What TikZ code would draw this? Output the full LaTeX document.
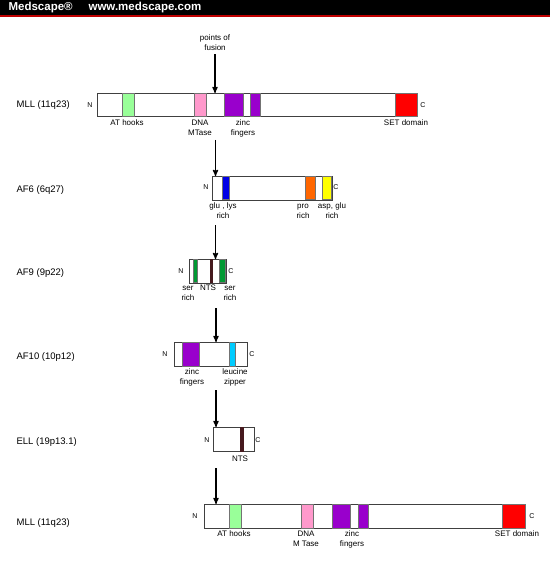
\documentclass[tikz,border=0pt]{standalone}
\usepackage{fontspec}
\setmainfont{Liberation Sans}
\usetikzlibrary{arrows,positioning}
\definecolor{hookgreen}{RGB}{153,255,153}
\definecolor{mtasepink}{RGB}{255,153,204}
\definecolor{zincpurple}{RGB}{153,0,204}
\definecolor{setred}{RGB}{255,0,0}
\definecolor{glublue}{RGB}{0,0,230}
\definecolor{proorange}{RGB}{255,102,0}
\definecolor{aspyellow}{RGB}{255,255,0}
\definecolor{sergreen}{RGB}{0,153,51}
\definecolor{ntsbrown}{RGB}{70,25,30}
\definecolor{leucyan}{RGB}{0,204,255}
\definecolor{headred}{RGB}{190,0,0}

\begin{document}
\begin{tikzpicture}[x=1pt, y=-1pt, ->, >=stealth', line width=1.2pt,
    every node/.style={inner sep=0pt, font=\fontsize{8}{10}\selectfont},
    bar/.style={draw=black!75, line width=0.8pt, fill=white, anchor=north west, minimum height=23.5pt},
    dom/.style={draw=black!55, line width=0.5pt},
    sub/.style={anchor=north, align=center},
    gene/.style={anchor=west, font=\fontsize{9.5}{10}\selectfont},
    term/.style={font=\fontsize{7}{8}\selectfont}]
    \useasboundingbox (0,0) rectangle (550,564);

    % banner
    \fill[black] (0,0) rectangle (550,15);
    \fill[headred] (0,15) rectangle (550,17);
    \node[anchor=west, text=white, font=\bfseries\fontsize{11.5}{12}\selectfont] (brand) at (8,7.5) {Medscape®};
    \node[anchor=west, text=white, font=\bfseries\fontsize{11.5}{12}\selectfont] (site) at (88,7.5) {www.medscape.com};

    % gene names
    \node[gene] (gMLLa) at (16,105) {MLL (11q23)};
    \node[gene] (gAF6) at (16,190) {AF6 (6q27)};
    \node[gene] (gAF9) at (16,273) {AF9 (9p22)};
    \node[gene] (gAF10) at (16,357) {AF10 (10p12)};
    \node[gene] (gELL) at (16,442) {ELL (19p13.1)};
    \node[gene] (gMLLb) at (16,523) {MLL (11q23)};

    % MLL (top)
    \node[bar, minimum width=320pt] (mllA) at (97,93) {};
    \draw[-, dom, fill=hookgreen] (122,93) rectangle (134,116);
    \draw[-, dom, fill=mtasepink] (194,93) rectangle (206,116);
    \draw[-, dom, fill=zincpurple] (224,93) rectangle (243,116);
    \draw[-, dom, fill=zincpurple] (250,93) rectangle (260,116);
    \draw[-, dom, fill=setred] (395,93) rectangle (417,116);
    \node[term] (nMLLa) at (90,105) {N};
    \node[term] (cMLLa) at (423,105) {C};
    \node[sub] (hookA) at (127,119) {AT hooks};
    \node[sub] (mtaseA) at (200,119) {DNA\\MTase};
    \node[sub] (zincA) at (243,119) {zinc\\fingers};
    \node[sub] (setA) at (406,119) {SET domain};

    % AF6
    \node[bar, minimum width=120pt] (af6) at (212,176) {};
    \draw[-, dom, fill=glublue] (222,176) rectangle (229,199);
    \draw[-, dom, fill=proorange] (305,176) rectangle (315,199);
    \draw[-, dom, fill=aspyellow] (322,176) rectangle (331,199);
    \node[term] (nAF6) at (206,187) {N};
    \node[term] (cAF6) at (336,187) {C};
    \node[sub] (gluAF6) at (223,202) {glu , lys\\rich};
    \node[sub] (proAF6) at (303,202) {\vphantom{Ap}pro\\rich};
    \node[sub] (aspAF6) at (332,202) {asp, glu\\rich};

    % AF9
    \node[bar, minimum width=37pt] (af9) at (189,259) {};
    \draw[-, dom, fill=sergreen] (193,259) rectangle (197,282);
    \draw[-, dom, draw=ntsbrown, fill=ntsbrown] (210,259) rectangle (212,282);
    \draw[-, dom, fill=sergreen] (219,259) rectangle (225,282);
    \node[term] (nAF9) at (181,271) {N};
    \node[term] (cAF9) at (231,271) {C};
    \node[sub] (serAF9a) at (188,284) {\vphantom{Ap}ser\\rich};
    \node[sub] (ntsAF9) at (208,284) {NTS};
    \node[sub] (serAF9b) at (230,284) {\vphantom{Ap}ser\\rich};

    % AF10
    \node[bar, minimum width=73pt] (af10) at (174,342) {};
    \draw[-, dom, fill=zincpurple] (182,342) rectangle (199,366);
    \draw[-, dom, fill=leucyan] (229,342) rectangle (235,366);
    \node[term] (nAF10) at (165,354) {N};
    \node[term] (cAF10) at (252,354) {C};
    \node[sub] (zincAF10) at (192,368) {zinc\\fingers};
    \node[sub] (leuAF10) at (235,368) {leucine\\zipper};

    % ELL
    \node[bar, minimum width=41pt] (ell) at (213,427) {};
    \draw[-, dom, draw=ntsbrown, fill=ntsbrown] (240,427) rectangle (243,451);
    \node[term] (nELL) at (207,440) {N};
    \node[term] (cELL) at (258,440) {C};
    \node[sub] (ntsELL) at (240,455) {NTS};

    % MLL (bottom)
    \node[bar, minimum width=321pt] (mllB) at (204,504) {};
    \draw[-, dom, fill=hookgreen] (229,504) rectangle (241,528);
    \draw[-, dom, fill=mtasepink] (301,504) rectangle (313,528);
    \draw[-, dom, fill=zincpurple] (332,504) rectangle (350,528);
    \draw[-, dom, fill=zincpurple] (358,504) rectangle (368,528);
    \draw[-, dom, fill=setred] (502,504) rectangle (525,528);
    \node[term] (nMLLb) at (195,516) {N};
    \node[term] (cMLLb) at (532,516) {C};
    \node[sub] (hookB) at (234,530) {AT hooks};
    \node[sub] (mtaseB) at (306,530) {DNA\\M Tase};
    \node[sub] (zincB) at (352,530) {zinc\\fingers};
    \node[sub] (setB) at (517,530) {SET domain};

    % fusion arrows
    \node[sub] (fus) at (215,34) {points of\\fusion};
    \coordinate (s2) at (215.5,140);
    \coordinate (s3) at (215.5,225);
    \coordinate (s4) at (216,308);
    \coordinate (s5) at (216,390);
    \coordinate (s6) at (216,468);
    \path (fus.south) ++(0,3) coordinate (s1);
    \draw (s1) -- (s1 |- mllA.north);
    \draw (s2) -- (s2 |- af6.north);
    \draw (s3) -- (s3 |- af9.north);
    \draw (s4) -- (s4 |- af10.north);
    \draw (s5) -- (s5 |- ell.north);
    \draw (s6) -- (s6 |- mllB.north);
\end{tikzpicture}
\end{document}
